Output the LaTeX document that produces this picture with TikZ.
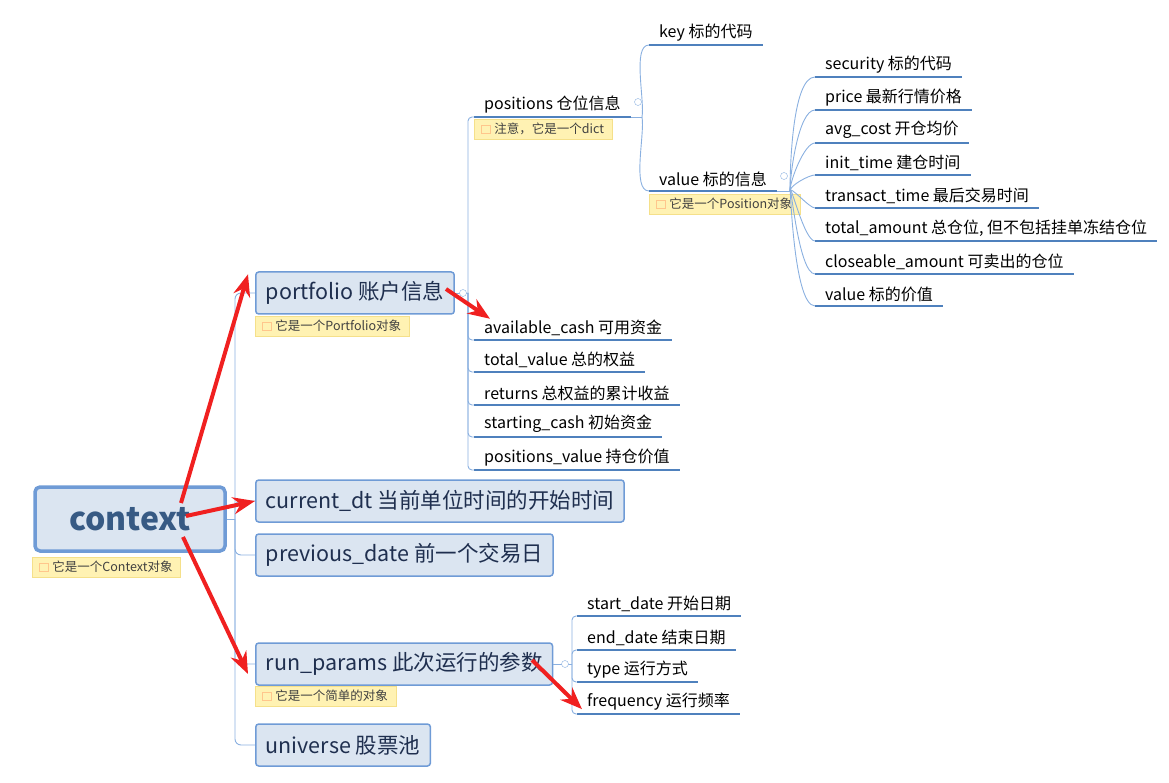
\documentclass[tikz,border=0pt]{standalone}
\usepackage{fontspec}
\setmainfont{Noto Sans CJK SC}
\usetikzlibrary{arrows.meta}
\definecolor{boxfill}{HTML}{DBE5F1}
\definecolor{boxline}{HTML}{6F9BD6}
\definecolor{linkline}{HTML}{8AB0E0}
\definecolor{uline}{HTML}{4F81BD}
\definecolor{notefill}{HTML}{FFF2B3}
\definecolor{noteline}{HTML}{F5E08A}
\definecolor{inkdark}{HTML}{1F2F4F}
\definecolor{arrowred}{HTML}{F02020}
\tikzset{
  topic/.style={draw=boxline,fill=boxfill,rounded corners=3pt,line width=1.5pt,inner xsep=10pt,
    minimum height=42pt,anchor=west,font=\fontsize{21.5}{21.5}\selectfont,text=inkdark},
  leaf/.style={anchor=south west,inner xsep=10pt,inner ysep=4pt,font=\fontsize{16}{16}\selectfont,text=black},
  note/.style={fill=notefill,draw=noteline,anchor=north west,inner xsep=8pt,inner ysep=4pt,
    font=\fontsize{12.5}{12.5}\selectfont,text=black!75},
  conn/.style={draw=linkline,line width=0.9pt},
  under/.style={draw=uline,line width=2pt},
  fold/.style={draw=linkline,fill=white,circle,inner sep=0pt,minimum size=7pt},
  redarrow/.style={draw=arrowred,line width=4pt,-{Stealth[length=22pt,width=17pt]}}
}
\newcommand\notenode[4]{
  \node[note] (#1) at (#2,#3) {\phantom{M}\,#4};
  \draw[orange!45,line width=0.7pt] ([xshift=7pt,yshift=-6pt]#1.north west) rectangle ([xshift=16pt,yshift=6pt]#1.south west);
}
\newcommand\leafnode[4]{
  \node[leaf] (#1) at (#2,#3) {#4};
  \draw[under] (#1.south west) -- (#1.south east);
}
\begin{document}
\begin{tikzpicture}[x=1pt,y=-1pt]
  \useasboundingbox (0,0) rectangle (1169,783);

  % central topic
  \node[draw=boxline,fill=boxfill,rounded corners=5pt,line width=3.5pt,minimum width=190pt,minimum height=64pt,
    font=\fontsize{32}{32}\selectfont\bfseries,text=uline!70!black] (context) at (130,519) {context};
  \notenode{ctxnote}{32}{557}{它是一个Context对象}

  % first level topics
  \node[topic] (portfolio) at (255,293) {portfolio 账户信息};
  \notenode{pfnote}{255}{316}{它是一个Portfolio对象}
  \node[topic] (currentdt) at (255,501) {current\_dt 当前单位时间的开始时间};
  \node[topic] (prevdate) at (255,555) {previous\_date 前一个交易日};
  \node[topic] (runparams) at (255,664) {run\_params 此次运行的参数};
  \notenode{rpnote}{255}{686}{它是一个简单的对象};
  \node[topic] (universe) at (255,745) {universe 股票池};

  % trunk
  \coordinate (trunk) at (235,519);
  \draw[conn] (context.east) -- (trunk);
  \foreach \t in {portfolio,currentdt,prevdate,runparams,universe}
    \draw[conn,rounded corners=6pt] (trunk) |- (\t.west);

  % portfolio fields
  \coordinate (pffork) at (468,293);
  \draw[conn] (portfolio.east) -- (pffork);
  \node[fold] at (463,293) {};
  \leafnode{positions}{474}{117}{positions 仓位信息}
  \notenode{posnote}{474}{119}{注意，它是一个dict}
  \leafnode{availcash}{474}{340}{available\_cash 可用资金}
  \leafnode{totalvalue}{474}{372}{total\_value 总的权益}
  \leafnode{returns}{474}{405}{returns 总权益的累计收益}
  \leafnode{startcash}{474}{437}{starting\_cash 初始资金}
  \leafnode{posvalue}{474}{470}{positions\_value 持仓价值}
  \foreach \l in {positions,availcash,totalvalue,returns,startcash,posvalue}
    \draw[conn,rounded corners=4pt] (pffork) |- (\l.south west);

  % positions dict
  \coordinate (posfork) at (642,117);
  \draw[conn] (positions.south east) -- (posfork);
  \node[fold] at (638,102) {};
  \leafnode{key}{649}{45}{key 标的代码}
  \leafnode{value}{649}{191}{value 标的信息}
  \notenode{valnote}{649}{194}{它是一个Position对象}
  \draw[conn] (posfork) to[out=80,in=180,looseness=0.6] (key.south west);
  \draw[conn] (posfork) to[out=-80,in=180,looseness=0.6] (value.south west);

  % position object fields
  \coordinate (valfork) at (790,191);
  \draw[conn] (value.south east) -- (valfork);
  \node[fold] at (784,176) {};
  \leafnode{security}{815}{77}{security 标的代码}
  \leafnode{price}{815}{110}{price 最新行情价格}
  \leafnode{avgcost}{815}{143}{avg\_cost 开仓均价}
  \leafnode{inittime}{815}{175}{init\_time 建仓时间}
  \leafnode{transtime}{815}{208}{transact\_time 最后交易时间}
  \leafnode{totalamt}{815}{241}{total\_amount 总仓位, 但不包括挂单冻结仓位}
  \leafnode{closeamt}{815}{274}{closeable\_amount 可卖出的仓位}
  \leafnode{posval}{815}{306}{value 标的价值}
  \foreach \l in {security,price,avgcost,inittime,transtime,totalamt,closeamt,posval}
    \draw[conn] (valfork) to[out=90,in=180,looseness=0.5] (\l.south west);

  % run params fields
  \coordinate (rpfork) at (572,664);
  \draw[conn] (runparams.east) -- (rpfork);
  \node[fold] at (565,664) {};
  \leafnode{startdate}{577}{616}{start\_date 开始日期}
  \leafnode{enddate}{577}{650}{end\_date 结束日期}
  \leafnode{type}{577}{682}{type 运行方式}
  \leafnode{frequency}{577}{714}{frequency 运行频率}
  \foreach \l in {startdate,enddate,type,frequency}
    \draw[conn,rounded corners=4pt] (rpfork) |- (\l.south west);

  % red arrows
  \coordinate (a1) at (181,503);
  \coordinate (a2) at (186,516);
  \coordinate (a3) at (183,537);
  \coordinate (a4) at (446,289);
  \coordinate (a5) at (532,660);
  \draw[redarrow] (a1) -- ([xshift=-7pt,yshift=-3pt]portfolio.north west);
  \draw[redarrow] (a2) -- (currentdt.west);
  \draw[redarrow] (a3) -- ([xshift=-7pt,yshift=-10pt]runparams.west);
  \draw[redarrow] (a4) -- ([xshift=16pt,yshift=-3pt]availcash.north west);
  \draw[redarrow] (a5) -- ([xshift=5pt,yshift=-8pt]frequency.west);
\end{tikzpicture}
\end{document}
